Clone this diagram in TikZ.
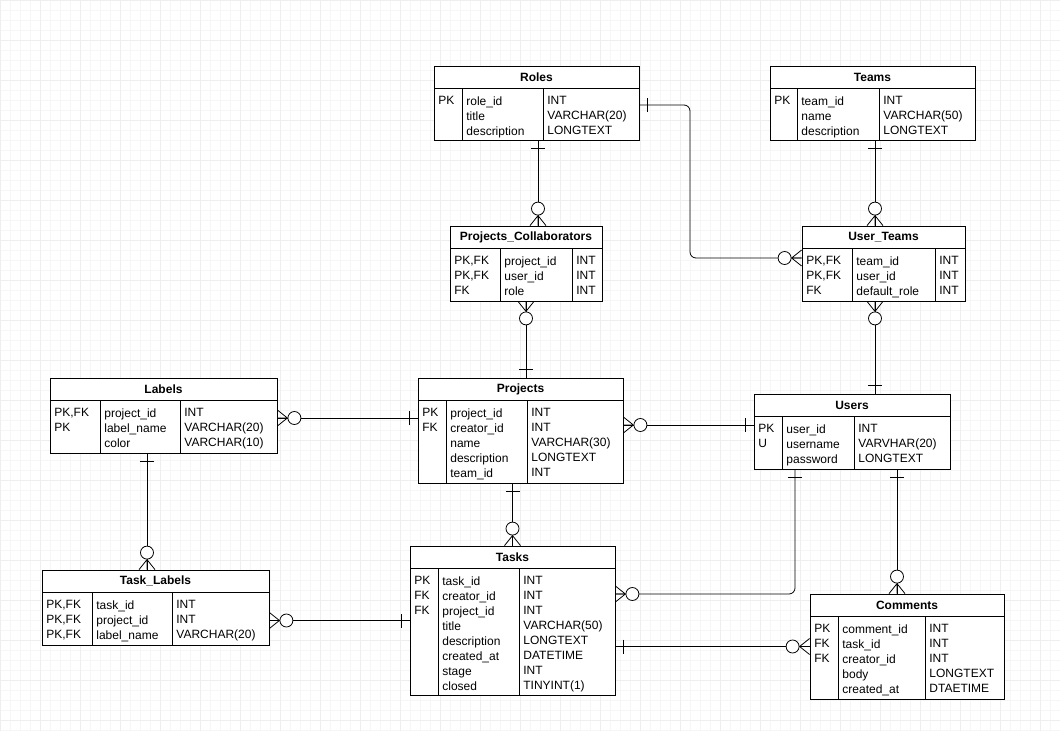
\documentclass[tikz,border=0pt]{standalone}
\usepackage{fontspec}
\setmainfont{Liberation Sans}
\begin{document}
\begin{tikzpicture}[x=1pt,y=-1pt,line width=0.8pt,
  txt/.style={anchor=north west,align=left,inner sep=0pt,font=\fontsize{12}{15}\selectfont},
  ttl/.style={font=\fontsize{12}{14}\selectfont\bfseries,inner sep=0pt},
  ent/.style={draw,inner sep=0pt,fill=white},
  conn/.style={line width=0.8pt}]
\useasboundingbox (0,0) rectangle (1060,731);
\fill[white] (0,0) rectangle (1060,731);
\foreach \i in {0,10,...,1060} \draw[gray!7,line width=0.4pt] (\i,0) -- (\i,731);
\foreach \i in {0,10,...,730} \draw[gray!7,line width=0.4pt] (0,\i) -- (1060,\i);
\foreach \i in {0,40,...,1060} \draw[gray!13,line width=0.4pt] (\i,0) -- (\i,731);
\foreach \i in {0,40,...,730} \draw[gray!13,line width=0.4pt] (0,\i) -- (1060,\i);

\newcommand\tbl[8]{%
  \node[ent,minimum width={#4-#2},minimum height={#5-#3}] (#1) at ({(#2+#4)/2},{(#3+#5)/2}) {};
  \draw (#2,#3+22) -- (#4,#3+22);
  \draw (#6,#3+22) -- (#6,#5);
  \draw (#7,#3+22) -- (#7,#5);
  \node[ttl] at ({(#2+#4)/2},#3+11) {#8};
  \coordinate (#1-k) at (#2+4,#3+30);
  \coordinate (#1-n) at (#6+4,#3+30);
  \coordinate (#1-t) at (#7+4,#3+30);}
\newcommand\rows[4]{%
  \node[txt] at (#1-k) {#2};
  \node[txt] at (#1-n) {#3};
  \node[txt] at (#1-t) {#4};}
\newcommand\many[2]{%
  \begin{scope}[shift={(#1)},rotate=#2]
  \draw (10,0) -- (0,8) (10,0) -- (0,-8) (10,0) -- (0,0);
  \draw[fill=white] (17,0) circle (6.5);
  \end{scope}}
\newcommand\one[2]{%
  \begin{scope}[shift={(#1)},rotate=#2]
  \draw (8,-7) -- (8,7);
  \end{scope}}

\tbl{roles}{434}{66}{639}{140}{462}{543}{Roles}
\rows{roles}{PK}{role\_id\\title\\description}{INT\\VARCHAR(20)\\LONGTEXT}
\tbl{teams}{770}{66}{975}{140}{797}{879}{Teams}
\rows{teams}{PK}{team\_id\\name\\description}{INT\\VARCHAR(50)\\LONGTEXT}
\tbl{pc}{450}{226}{602}{301}{500}{572}{Projects\_Collaborators}
\rows{pc}{PK,FK\\PK,FK\\FK}{project\_id\\user\_id\\role}{INT\\INT\\INT}
\tbl{ut}{802}{226}{965}{301}{852}{935}{User\_Teams}
\rows{ut}{PK,FK\\PK,FK\\FK}{team\_id\\user\_id\\default\_role}{INT\\INT\\INT}
\tbl{labels}{50}{378}{277}{453}{100}{180}{Labels}
\rows{labels}{PK,FK\\PK}{project\_id\\label\_name\\color}{INT\\VARCHAR(20)\\VARCHAR(10)}
\tbl{projects}{418}{378}{623}{483}{446}{527}{Projects}
\rows{projects}{PK\\FK}{project\_id\\creator\_id\\name\\description\\team\_id}{INT\\INT\\VARCHAR(30)\\LONGTEXT\\INT}
\tbl{users}{754}{394}{950}{469}{782}{854}{Users}
\rows{users}{PK\\U}{user\_id\\username\\password}{INT\\VARVHAR(20)\\LONGTEXT}
\tbl{tl}{42}{570}{269}{645}{92}{172}{Task\_Labels}
\rows{tl}{PK,FK\\PK,FK\\PK,FK}{task\_id\\project\_id\\label\_name}{INT\\INT\\VARCHAR(20)}
\tbl{tasks}{410}{546}{615}{695}{438}{519}{Tasks}
\rows{tasks}{PK\\FK\\FK}{task\_id\\creator\_id\\project\_id\\title\\description\\created\_at\\stage\\closed}{INT\\INT\\INT\\VARCHAR(50)\\LONGTEXT\\DATETIME\\INT\\TINYINT(1)}
\tbl{comments}{810}{594}{1004}{699}{838}{925}{Comments}
\rows{comments}{PK\\FK\\FK}{comment\_id\\task\_id\\creator\_id\\body\\created\_at}{INT\\INT\\INT\\LONGTEXT\\DTAETIME}

\coordinate (xR) at (538,0);
\coordinate (xT) at (875,0);
\coordinate (xL) at (147,0);
\coordinate (xU1) at (795,0);
\coordinate (xU2) at (897,0);
\coordinate (yT) at (0,594);
\coordinate (bend) at (690,105);
\coordinate (yUT) at (0,258);
\coordinate (yPU) at (0,425);
\coordinate (yLP) at (0,418);

% Roles - PC
\draw[conn] (xR |- roles.south) -- (xR |- pc.north);
\one{xR |- roles.south}{-90}\many{xR |- pc.north}{90}
% Roles - User_Teams
\draw[conn,rounded corners=6] (roles.east |- bend) -- (bend) -- (bend |- yUT) -- (ut.west |- yUT);
\one{roles.east |- bend}{0}\many{ut.west |- yUT}{180}
% Teams - UT
\draw[conn] (xT |- teams.south) -- (xT |- ut.north);
\one{xT |- teams.south}{-90}\many{xT |- ut.north}{90}
% PC - Projects
\draw[conn] (pc.south) -- (pc.south |- projects.north);
\many{pc.south}{-90}\one{pc.south |- projects.north}{90}
% UT - Users
\draw[conn] (xT |- ut.south) -- (xT |- users.north);
\many{xT |- ut.south}{-90}\one{xT |- users.north}{90}
% Labels - Projects
\draw[conn] (labels.east |- yLP) -- (projects.west |- yLP);
\many{labels.east |- yLP}{0}\one{projects.west |- yLP}{180}
% Projects - Users
\draw[conn] (projects.east |- yPU) -- (users.west |- yPU);
\many{projects.east |- yPU}{0}\one{users.west |- yPU}{180}
% Labels - Task_Labels
\draw[conn] (xL |- labels.south) -- (xL |- tl.north);
\one{xL |- labels.south}{-90}\many{xL |- tl.north}{90}
% Projects - Tasks
\draw[conn] (tasks.north |- projects.south) -- (tasks.north);
\one{tasks.north |- projects.south}{-90}\many{tasks.north}{90}
% Users - Tasks
\draw[conn,rounded corners=6] (xU1 |- users.south) -- (xU1 |- yT) -- (tasks.east |- yT);
\one{xU1 |- users.south}{-90}\many{tasks.east |- yT}{0}
% Users - Comments
\draw[conn] (xU2 |- users.south) -- (xU2 |- comments.north);
\one{xU2 |- users.south}{-90}\many{xU2 |- comments.north}{90}
% Task_Labels - Tasks
\draw[conn] (tl.east |- tasks.west) -- (tasks.west);
\many{tl.east |- tasks.west}{0}\one{tasks.west}{180}
% Tasks - Comments
\draw[conn] (tasks.east |- comments.west) -- (comments.west);
\one{tasks.east |- comments.west}{0}\many{comments.west}{180}
\end{tikzpicture}
\end{document}
